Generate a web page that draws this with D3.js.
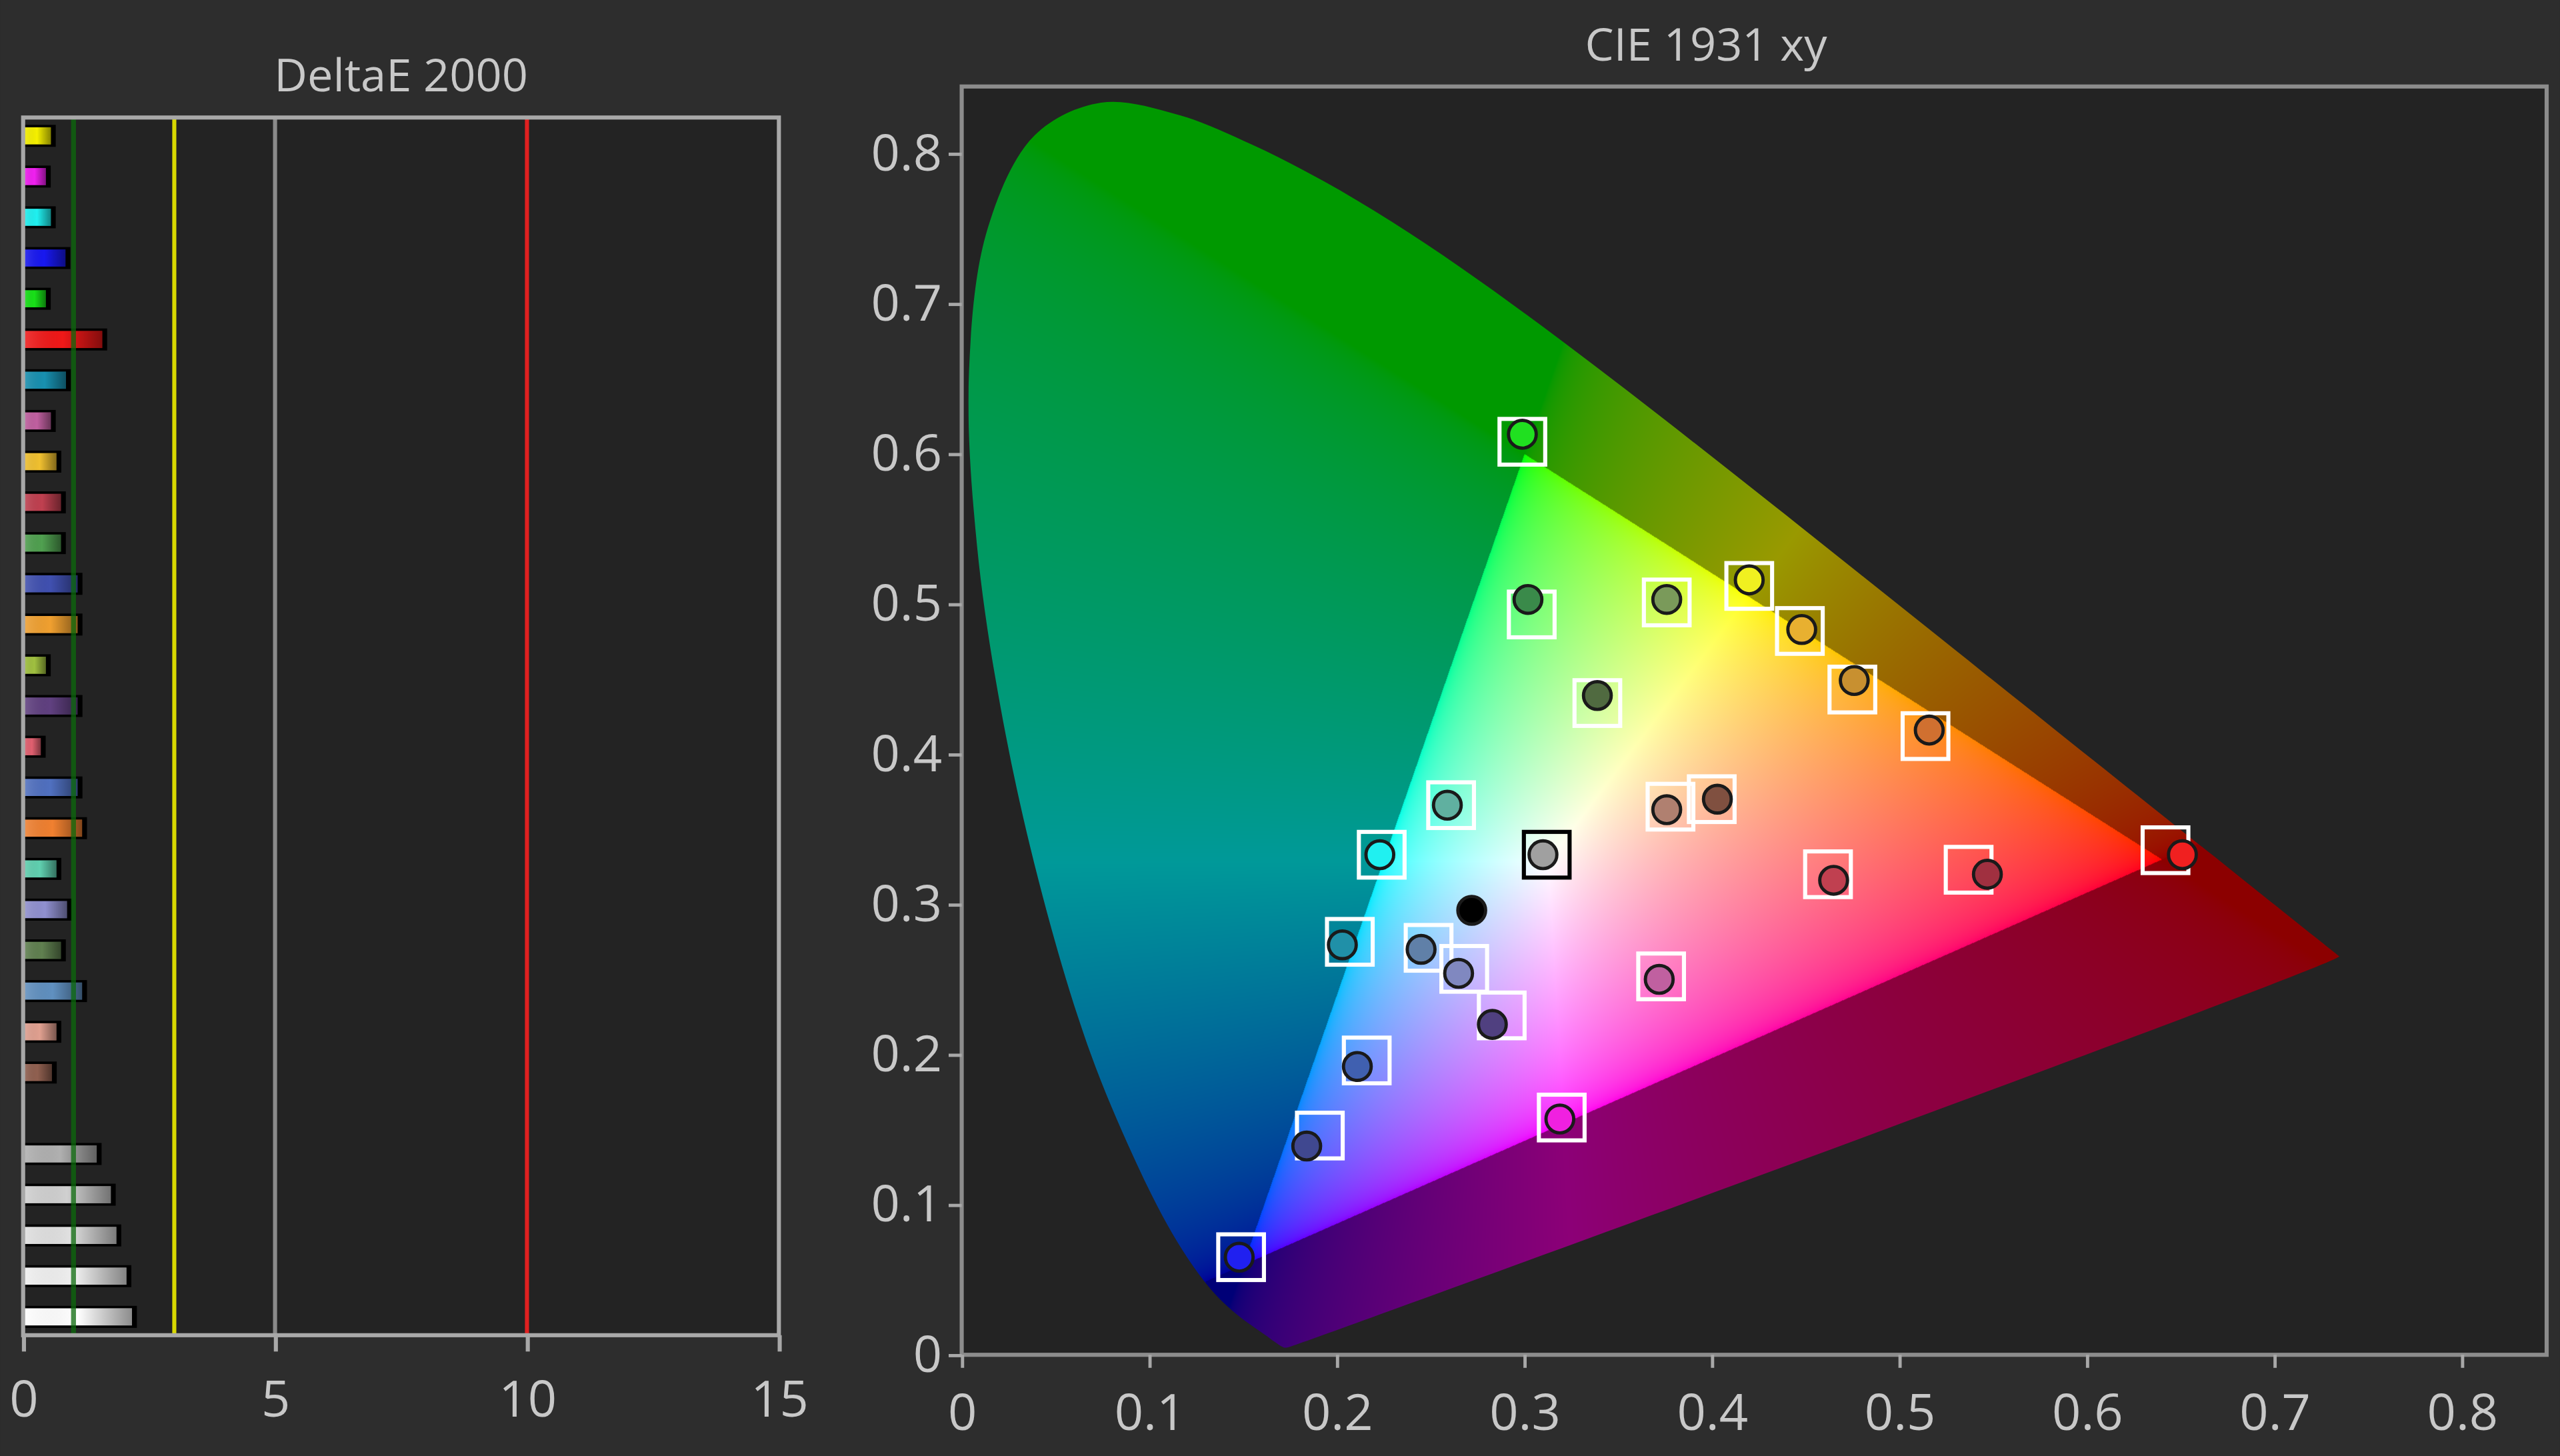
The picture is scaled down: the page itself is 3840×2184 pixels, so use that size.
<!DOCTYPE html>
<html><head><meta charset="utf-8">
<script src="https://cdn.jsdelivr.net/npm/d3@7"></script>
<style>html,body{margin:0;padding:0;background:#2d2d2d;overflow:hidden}</style>
</head><body>
<script>
// ---------- DATA ----------
const barColors = ["#f5f000","#f020f0","#20f0f0","#1818f0","#18e018","#f01818","#1890b0","#c060a0","#f0c030","#c04050","#50a050","#4050b0","#f0a030","#a0c040","#604080","#e06070","#5070c0","#f08030","#60d0b0","#9090d0","#608050","#6090c0","#e0a090","#906050",null,"#b0b0b0","#d0d0d0","#e0e0e0","#f0f0f0","#ffffff"];
const barValues = [0.55,0.45,0.55,0.84,0.45,1.57,0.85,0.55,0.66,0.75,0.75,1.08,1.08,0.45,1.08,0.35,1.08,1.17,0.66,0.87,0.75,1.17,0.66,0.57,null,1.46,1.74,1.85,2.05,2.16];
const deltaTicks = [0,5,10,15];
const refLines = [{v:1,c:"#0c6a0c"},{v:3,c:"#d8d800"},{v:5,c:"#8a8a8a"},{v:10,c:"#e02020"}];

const targetX = [.299,.304,.376,.420,.447,.475,.514,.339,.261,.224,.312,.378,.400,.462,.537,.642,.207,.249,.268,.288,.373,.216,.191,.320,.149];
const targetY = [.608,.493,.501,.512,.482,.443,.412,.434,.366,.333,.333,.365,.370,.320,.323,.336,.275,.271,.257,.226,.252,.196,.146,.158,.065];
const measX = [.299,.302,.376,.420,.448,.476,.516,.339,.259,.223,.310,.376,.403,.465,.547,.651,.203,.245,.265,.283,.372,.211,.184,.319,.148,.272];
const measY = [.613,.503,.503,.516,.483,.449,.416,.439,.366,.333,.333,.363,.370,.316,.320,.333,.273,.270,.254,.220,.250,.192,.139,.157,.065,.296];
const measColors = ["#20e020","#3a8a4a","#7a9a5a","#f0f020","#e8b030","#c89030","#d07030","#506a40","#60b0a0","#20f0f0","#a0a0a0","#b08070","#805040","#c04050","#a03040","#f02020","#2090a8","#6080a8","#8088c0","#504080","#c060a0","#4060b0","#404890","#f020e0","#2020f0","#000000"];
const cieTicks = [0,0.1,0.2,0.3,0.4,0.5,0.6,0.7,0.8];
const gamut = [[0.64,0.33],[0.30,0.60],[0.15,0.06]];
const locus = [[.1741,.0050],[.1740,.0050],[.1738,.0049],[.1736,.0049],[.1733,.0048],[.1730,.0048],[.1726,.0048],[.1721,.0048],[.1714,.0051],[.1703,.0058],[.1689,.0069],[.1669,.0086],[.1644,.0109],[.1611,.0138],[.1566,.0177],[.1510,.0227],[.1440,.0297],[.1355,.0399],[.1241,.0578],[.1096,.0868],[.0913,.1327],[.0687,.2007],[.0454,.2950],[.0235,.4127],[.0082,.5384],[.0039,.6548],[.0139,.7502],[.0389,.8120],[.0743,.8338],[.1142,.8262],[.1547,.8059],[.1929,.7816],[.2296,.7543],[.2658,.7243],[.3016,.6923],[.3373,.6589],[.3731,.6245],[.4087,.5896],[.4441,.5547],[.4788,.5202],[.5125,.4866],[.5448,.4544],[.5752,.4242],[.6029,.3965],[.6270,.3725],[.6482,.3514],[.6658,.3340],[.6801,.3197],[.6915,.3083],[.7006,.2993],[.7079,.2920],[.7140,.2859],[.7190,.2809],[.7230,.2770],[.7260,.2740],[.7283,.2717],[.7300,.2700],[.7311,.2689],[.7320,.2680],[.7334,.2666],[.7344,.2656],[.7347,.2653]];

// ---------- SETUP ----------
const W=1568,H=892,S=3840/1568;
const svg=d3.select("body").append("svg").attr("width",3840).attr("height",2184).attr("viewBox",`0 0 ${W} ${H}`)
  .style("font-family","'Open Sans','DejaVu Sans',sans-serif");
svg.append("rect").attr("width",W).attr("height",H).attr("fill","#2d2d2d");
const txt="#c8c8c8";

// ---------- DELTA E ----------
const L={x0:14,x1:477,y0:72,y1:818};
const xD=d3.scaleLinear().domain([0,15]).range([L.x0,L.x1]);
const yD=d3.scaleBand().domain(d3.range(barValues.length)).range([L.y0+1,L.y1-1]).paddingInner(0.58).paddingOuter(0.2);
svg.append("rect").attr("x",L.x0).attr("y",L.y0).attr("width",L.x1-L.x0).attr("height",L.y1-L.y0).attr("fill","#232323");
svg.append("text").attr("x",(L.x0+L.x1)/2).attr("y",56).attr("text-anchor","middle").attr("fill",txt).attr("font-size",28).text("DeltaE 2000");
const defs=svg.append("defs");
const sh=defs.append("linearGradient").attr("id","shade");
sh.append("stop").attr("offset","0").attr("stop-color","#fff").attr("stop-opacity",0.15);
sh.append("stop").attr("offset","0.5").attr("stop-color","#000").attr("stop-opacity",0);
sh.append("stop").attr("offset","1").attr("stop-color","#000").attr("stop-opacity",0.45);
const bd=barValues.map((v,i)=>({v,c:barColors[i],i})).filter(d=>d.v!=null);
svg.selectAll(".bs").data(bd).join("rect").attr("x",xD(0)).attr("y",d=>yD(d.i)-1.5).attr("width",d=>xD(d.v)-xD(0)+3).attr("height",yD.bandwidth()+3).attr("fill","#000");
svg.selectAll(".b").data(bd).join("rect").attr("x",xD(0)).attr("y",d=>yD(d.i)).attr("width",d=>xD(d.v)-xD(0)).attr("height",yD.bandwidth()).attr("fill",d=>d.c);
svg.selectAll(".bo").data(bd).join("rect").attr("x",xD(0)).attr("y",d=>yD(d.i)).attr("width",d=>xD(d.v)-xD(0)).attr("height",yD.bandwidth()).attr("fill","url(#shade)");
svg.selectAll(".rl").data(refLines).join("line").attr("x1",d=>xD(d.v)).attr("x2",d=>xD(d.v)).attr("y1",L.y0).attr("y2",L.y1)
  .attr("stroke",d=>d.c).attr("stroke-width",d=>d.v===1?3:2.5).attr("opacity",d=>d.v===1?0.75:1);
svg.append("rect").attr("x",L.x0).attr("y",L.y0).attr("width",L.x1-L.x0).attr("height",L.y1-L.y0).attr("fill","none").attr("stroke","#a8a8a8").attr("stroke-width",2.5);
const axD=svg.append("g").attr("transform",`translate(0,${L.y1})`).call(d3.axisBottom(xD).tickValues(deltaTicks).tickSize(10).tickPadding(18).tickFormat(d3.format("d")));
axD.select(".domain").remove();
axD.selectAll("line").attr("stroke","#a8a8a8").attr("stroke-width",2.5);
axD.selectAll("text").attr("fill",txt).attr("font-size",31).attr("font-family","'Open Sans',sans-serif");

// ---------- CIE ----------
const C={x0:589,x1:1560,y0:53,y1:830};
const xC=d3.scaleLinear().domain([0,0.8]).range([589,1508]);
const yC=d3.scaleLinear().domain([0,0.8]).range([830,94]);
svg.append("text").attr("x",1045).attr("y",37).attr("text-anchor","middle").attr("fill",txt).attr("font-size",28).text("CIE 1931 xy");
svg.append("rect").attr("x",C.x0).attr("y",C.y0).attr("width",C.x1-C.x0).attr("height",C.y1-C.y0).attr("fill","#232323");

const cw=Math.round((C.x1-C.x0)*S), chh=Math.round((C.y1-C.y0)*S);
const cv=document.createElement("canvas"); cv.width=cw; cv.height=chh;
const ctx=cv.getContext("2d"); const img=ctx.createImageData(cw,chh);
function inTri(x,y){const [a,b,c]=gamut;
  const s=(p,q,r)=>(p[0]-r[0])*(q[1]-r[1])-(q[0]-r[0])*(p[1]-r[1]);
  const P=[x,y],d1=s(P,a,b),d2=s(P,b,c),d3=s(P,c,a);
  return !(((d1<0)||(d2<0)||(d3<0))&&((d1>0)||(d2>0)||(d3>0)));}
const gam=v=>v<=0.0031308?12.92*v:1.055*Math.pow(v,1/2.4)-0.055;
const [R,G,B]=gamut;
for(let j=0;j<chh;j++){const y=yC.invert(C.y0+j/S); if(y<=0.001) continue;
  for(let i=0;i<cw;i++){const x=xC.invert(C.x0+i/S);
    const X=x/y,Z=(1-x-y)/y;
    let r=3.2406*X-1.5372-0.4986*Z, g=-0.9689*X+1.8758+0.0415*Z, b=0.0557*X-0.2040+1.0570*Z;
    r=Math.max(r,0);g=Math.max(g,0);b=Math.max(b,0);
    const m=Math.max(r,g,b)||1; r/=m;g/=m;b/=m;
    const inside=inTri(x,y);
    const below = y < B[1]+(x-B[0])*(R[1]-B[1])/(R[0]-B[0]) && x>B[0]-0.02;
    let f=inside?1:(below?0.55:0.6);
    const k=(j*cw+i)*4;
    img.data[k]=255*gam(r)*f; img.data[k+1]=255*gam(g)*f; img.data[k+2]=255*gam(b)*f*(below&&!inside?0.85:1); img.data[k+3]=255;}}
ctx.putImageData(img,0,0);
const line=d3.line().x(d=>xC(d[0])).y(d=>yC(d[1])).curve(d3.curveCatmullRomClosed);
defs.append("clipPath").attr("id","loc").append("path").attr("d",line(locus));
svg.append("image").attr("x",C.x0).attr("y",C.y0).attr("width",C.x1-C.x0).attr("height",C.y1-C.y0)
  .attr("preserveAspectRatio","none").attr("href",cv.toDataURL()).attr("clip-path","url(#loc)");

svg.append("rect").attr("x",C.x0).attr("y",C.y0).attr("width",C.x1-C.x0).attr("height",C.y1-C.y0).attr("fill","none").attr("stroke","#8c8c8c").attr("stroke-width",2.5);
const axX=svg.append("g").attr("transform",`translate(0,${C.y1})`).call(d3.axisBottom(xC).tickValues(cieTicks).tickSize(8).tickPadding(16).tickFormat(d=>d===0?"0":d3.format(".1f")(d)));
const axY=svg.append("g").attr("transform",`translate(${C.x0},0)`).call(d3.axisLeft(yC).tickValues(cieTicks).tickSize(8).tickPadding(4).tickFormat(d=>d===0?"0":d3.format(".1f")(d)));
[axX,axY].forEach(a=>{a.select(".domain").remove();a.selectAll("line").attr("stroke","#a8a8a8").attr("stroke-width",2);
  a.selectAll("text").attr("fill",txt).attr("font-size",31).attr("font-family","'Open Sans',sans-serif");});

const tg=targetX.map((x,i)=>({x,y:targetY[i],i}));
svg.selectAll(".t").data(tg).join("rect").attr("x",d=>xC(d.x)-14).attr("y",d=>yC(d.y)-14).attr("width",28).attr("height",28)
  .attr("fill","none").attr("stroke",d=>d.i===10?"#000":"#fff").attr("stroke-width",2.5);
const ms=measX.map((x,i)=>({x,y:measY[i],c:measColors[i]}));
svg.selectAll(".m").data(ms).join("circle").attr("cx",d=>xC(d.x)).attr("cy",d=>yC(d.y)).attr("r",8.5)
  .attr("fill",d=>d.c).attr("stroke","#1a1a1a").attr("stroke-width",2);
</script>
</body></html>
